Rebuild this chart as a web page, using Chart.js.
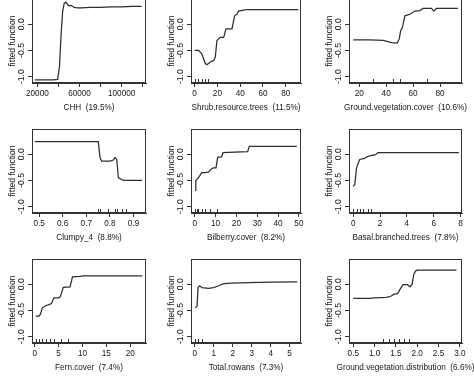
<!DOCTYPE html>
<html><head><meta charset="utf-8">
<script src="https://cdn.jsdelivr.net/npm/chart.js@4.4.1/dist/chart.umd.min.js"></script>
<style>
html,body{margin:0;padding:0;background:#fff;}
body{position:relative;width:474px;height:383px;overflow:hidden;}
canvas{position:absolute;}
</style></head><body>
<script>
// ---------- data ----------
const yTickValues = [-1.0, -0.5, 0.0];
const yTickLabels = ['-1.0', '-0.5', '0.0'];
const yTitle = 'fitted function';

const chhX = [17500, 25000, 30000, 35000, 39300, 41000, 42500, 44000, 45500, 47000, 48500, 50000, 52000, 55000, 58000, 62000, 70000, 80000, 90000, 100000, 110000, 119000];
const chhY = [-1.06, -1.06, -1.06, -1.06, -1.05, -0.8, -0.2, 0.25, 0.4, 0.42, 0.38, 0.35, 0.36, 0.32, 0.31, 0.31, 0.32, 0.32, 0.33, 0.33, 0.34, 0.34];
const chhTicks = [20000, 40000, 60000, 80000, 100000, 120000];
const chhTickLabels = ['20000', '', '60000', '', '100000', ''];
const chhRug = [];

const shrubX = [0, 3.5, 6.4, 9.4, 10.8, 13.8, 16.7, 18.1, 19.6, 22.5, 25.5, 27.5, 32.8, 35.1, 37.1, 38.6, 43, 45.9, 91];
const shrubY = [-0.5, -0.5, -0.57, -0.75, -0.77, -0.72, -0.69, -0.63, -0.31, -0.25, -0.25, -0.09, -0.09, 0.16, 0.19, 0.25, 0.27, 0.28, 0.28];
const shrubTicks = [0, 20, 40, 60, 80];
const shrubTickLabels = ['0', '20', '40', '60', '80'];
const shrubRug = [0, 3, 6.5, 9.4, 12];

const gvcX = [15.6, 27.9, 37.8, 44, 48.2, 49.7, 50.7, 52.1, 53.9, 57.6, 61.3, 65, 67.4, 73.6, 75.4, 77.3, 93.3];
const gvcY = [-0.3, -0.3, -0.31, -0.35, -0.36, -0.28, -0.13, -0.06, 0.16, 0.19, 0.25, 0.26, 0.3, 0.3, 0.25, 0.3, 0.3];
const gvcTicks = [20, 40, 60, 80];
const gvcTickLabels = ['20', '40', '60', '80'];
const gvcRug = [30, 45, 50, 70];

const clumpyX = [0.482, 0.751, 0.758, 0.765, 0.8, 0.815, 0.822, 0.829, 0.836, 0.858, 0.936];
const clumpyY = [0.24, 0.24, -0.065, -0.13, -0.13, -0.11, -0.065, -0.1, -0.45, -0.5, -0.5];
const clumpyTicks = [0.5, 0.6, 0.7, 0.8, 0.9];
const clumpyTickLabels = ['0.5', '0.6', '0.7', '0.8', '0.9'];
const clumpyRug = [0.75, 0.76, 0.79, 0.82, 0.83, 0.85, 0.87];

const bilX = [0.2, 0.5, 1.7, 3.4, 5, 6.6, 7.4, 8.9, 10.2, 11, 12.9, 13.6, 19.1, 25.4, 26.2, 49];
const bilY = [-0.69, -0.5, -0.45, -0.35, -0.35, -0.34, -0.3, -0.26, -0.26, -0.06, -0.05, 0.03, 0.04, 0.05, 0.15, 0.15];
const bilTicks = [0, 10, 20, 30, 40, 50];
const bilTickLabels = ['0', '10', '20', '30', '40', '50'];
const bilRug = [0.2, 1, 1.7, 3.4, 5, 7.4, 10.5];

const basalX = [0, 0.12, 0.25, 0.37, 0.49, 0.86, 1.03, 1.23, 1.67, 1.85, 7.88];
const basalY = [-0.61, -0.58, -0.27, -0.17, -0.1, -0.08, -0.05, -0.03, -0.01, 0.03, 0.03];
const basalTicks = [0, 2, 4, 6, 8];
const basalTickLabels = ['0', '2', '4', '6', '8'];
const basalRug = [0, 0.25, 0.5, 0.74, 1.1, 1.35];

const fernX = [0.2, 0.9, 1.2, 1.6, 2.3, 3.0, 3.5, 4.0, 5.1, 5.4, 5.97, 7.4, 7.9, 9.4, 10.2, 22.5];
const fernY = [-0.61, -0.61, -0.57, -0.45, -0.41, -0.39, -0.37, -0.26, -0.26, -0.23, -0.06, -0.05, 0.14, 0.15, 0.16, 0.16];
const fernTicks = [0, 5, 10, 15, 20];
const fernTickLabels = ['0', '5', '10', '15', '20'];
const fernRug = [0.2, 0.9, 1.6, 2.3, 3.2, 4, 5.6, 7];

const rowX = [0.03, 0.12, 0.17, 0.26, 0.38, 0.73, 0.99, 1.26, 1.52, 1.95, 2.82, 4.04, 5.4];
const rowY = [-0.45, -0.42, -0.065, -0.03, -0.065, -0.08, -0.065, -0.03, 0.01, 0.02, 0.03, 0.04, 0.045];
const rowTicks = [0, 1, 2, 3, 4, 5];
const rowTickLabels = ['0', '1', '2', '3', '4', '5'];
const rowRug = [0.03, 0.17, 0.38];

const gvdX = [0.5, 0.88, 1.0, 1.27, 1.38, 1.46, 1.54, 1.61, 1.67, 1.77, 1.83, 1.88, 1.92, 1.97, 2.02, 2.92];
const gvdY = [-0.27, -0.27, -0.26, -0.25, -0.23, -0.19, -0.18, -0.08, -0.01, -0.01, -0.05, 0.0, 0.19, 0.26, 0.27, 0.27];
const gvdTicks = [0.5, 1.0, 1.5, 2.0, 2.5, 3.0];
const gvdTickLabels = ['0.5', '1.0', '1.5', '2.0', '2.5', '3.0'];
const gvdRug = [1.19, 1.34, 1.46, 1.57, 1.69, 1.8];

const panels = [
  {title: 'CHH  (19.5%)', x: chhX, y: chhY, ticks: chhTicks, labels: chhTickLabels, rug: chhRug, min: 14900, max: 123100},
  {title: 'Shrub.resource.trees  (11.5%)', x: shrubX, y: shrubY, ticks: shrubTicks, labels: shrubTickLabels, rug: shrubRug, min: -3.2, max: 93.4},
  {title: 'Ground.vegetation.cover  (10.6%)', x: gvcX, y: gvcY, ticks: gvcTicks, labels: gvcTickLabels, rug: gvcRug, min: 12.4, max: 96.3},
  {title: 'Clumpy_4  (8.8%)', x: clumpyX, y: clumpyY, ticks: clumpyTicks, labels: clumpyTickLabels, rug: clumpyRug, min: 0.47, max: 0.953},
  {title: 'Bilberry.cover  (8.2%)', x: bilX, y: bilY, ticks: bilTicks, labels: bilTickLabels, rug: bilRug, min: -1.8, max: 51},
  {title: 'Basal.branched.trees  (7.8%)', x: basalX, y: basalY, ticks: basalTicks, labels: basalTickLabels, rug: basalRug, min: -0.31, max: 8.11},
  {title: 'Fern.cover  (7.4%)', x: fernX, y: fernY, ticks: fernTicks, labels: fernTickLabels, rug: fernRug, min: -0.57, max: 23.3},
  {title: 'Total.rowans  (7.3%)', x: rowX, y: rowY, ticks: rowTicks, labels: rowTickLabels, rug: rowRug, min: -0.2, max: 5.6},
  {title: 'Ground.vegetation.distribution  (6.6%)', x: gvdX, y: gvdY, ticks: gvdTicks, labels: gvdTickLabels, rug: gvdRug, min: 0.4, max: 3.05}
];
const yMin = -1.12, yMax = 0.48;

// ---------- layout & style ----------
const colL = [32, 191, 349], colR = [146, 301, 462];
const rowT = [-1, 129, 259], rowB = [83, 213, 343];
const FAMILY = '"Liberation Sans", Arial, Helvetica, sans-serif';
const FONT_H = {family: FAMILY, size: 8.2};   // horizontal text
const FONT_V = {family: FAMILY, size: 8.6};   // rotated text
const INK = '#161616';
const AXIS = '#333';
const PADL = 34, PADT = 4, PADR = 20, PADB = 32;

const boxPlugin = {
  id: 'rbox',
  afterDraw(chart, args, opts) {
    const {ctx, chartArea: a, scales: {x, y}} = chart;
    ctx.save();
    ctx.strokeStyle = AXIS;
    ctx.lineWidth = 1;
    ctx.strokeRect(Math.round(a.left) + 0.5, Math.round(a.top) + 0.5, Math.round(a.right - a.left) - 1, Math.round(a.bottom - a.top) - 1);
    // rug
    ctx.beginPath();
    for (const r of opts.rug) {
      const px = Math.round(x.getPixelForValue(r)) + 0.5;
      ctx.moveTo(px, a.bottom - 1);
      ctx.lineTo(px, a.bottom - 4);
    }
    ctx.stroke();
    ctx.fillStyle = INK;
    ctx.textAlign = 'center';
    ctx.textBaseline = 'middle';
    // x axis title (not squeezed to the plot width)
    ctx.font = FONT_H.size + 'px ' + FAMILY;
    ctx.fillText(opts.title, (a.left + a.right) / 2, a.bottom + 25);
    // rotated y tick labels
    ctx.font = FONT_V.size + 'px ' + FAMILY;
    yTickValues.forEach((v, i) => {
      const py = y.getPixelForValue(v);
      ctx.save();
      ctx.translate(a.left - 10.5, py);
      ctx.rotate(-Math.PI / 2);
      ctx.fillText(yTickLabels[i], 0, 0);
      ctx.restore();
    });
    ctx.restore();
  }
};

panels.forEach((p, k) => {
  const c = k % 3, r = Math.floor(k / 3);
  const L = colL[c], R = colR[c], T = rowT[r], B = rowB[r];
  const cv = document.createElement('canvas');
  const w = R - L + PADL + PADR, h = B - T + PADT + PADB;
  cv.width = w; cv.height = h;
  cv.style.left = (L - PADL) + 'px';
  cv.style.top = (T - PADT) + 'px';
  cv.style.width = w + 'px'; cv.style.height = h + 'px';
  document.body.appendChild(cv);
  new Chart(cv, {
    type: 'scatter',
    data: {datasets: [{
      data: p.x.map((v, i) => ({x: v, y: p.y[i]})),
      showLine: true, borderColor: '#2e2e2e', borderWidth: 1.25,
      pointRadius: 0, tension: 0, fill: false
    }]},
    options: {
      responsive: false, animation: false, devicePixelRatio: 1,
      layout: {padding: {left: 0, top: PADT, right: PADR, bottom: 0}},
      plugins: {legend: {display: false}, tooltip: {enabled: false}, rbox: {rug: p.rug, title: p.title}},
      scales: {
        x: {
          type: 'linear', position: 'bottom', min: p.min, max: p.max,
          afterBuildTicks: s => { s.ticks = p.ticks.map(v => ({value: v})); },
          afterFit: s => { s.height = PADB; },
          ticks: {autoSkip: false, maxRotation: 0, minRotation: 0, padding: 2, color: INK, font: FONT_H,
                  callback: (v, i) => p.labels[i]},
          grid: {display: true, drawOnChartArea: false, drawTicks: true, tickLength: 4, color: AXIS, lineWidth: 1},
          border: {display: true, color: AXIS, width: 1},
          title: {display: false}
        },
        y: {
          type: 'linear', position: 'left', min: yMin, max: yMax,
          afterBuildTicks: s => { s.ticks = yTickValues.map(v => ({value: v})); },
          afterFit: s => { s.width = PADL; },
          ticks: {display: false},
          grid: {display: true, drawOnChartArea: false, drawTicks: true, tickLength: 4, color: AXIS, lineWidth: 1},
          border: {display: true, color: AXIS, width: 1},
          title: {display: true, text: yTitle, color: INK, font: FONT_V, padding: {top: 9, bottom: 0}}
        }
      }
    },
    plugins: [boxPlugin]
  });
});
</script>
</body></html>
